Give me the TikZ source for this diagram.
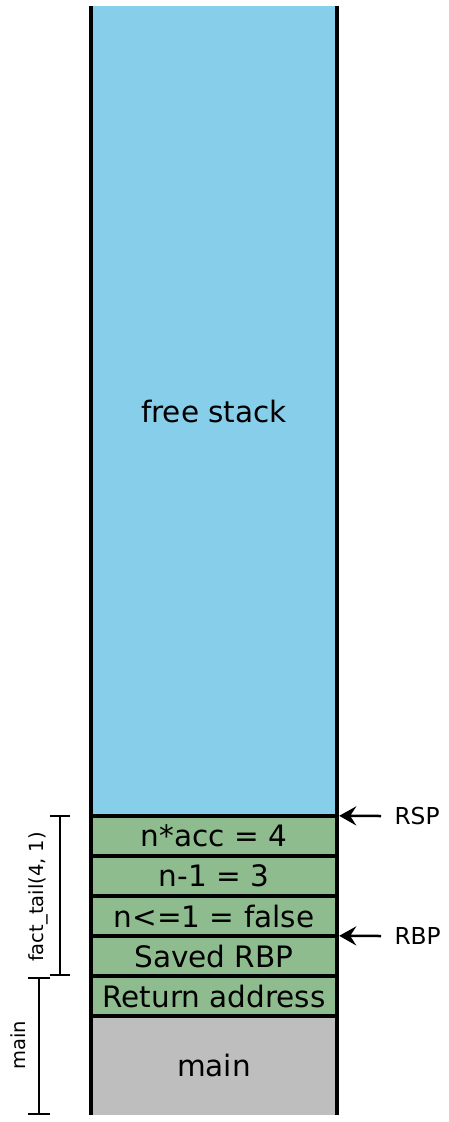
\documentclass[tikz,border=0pt]{standalone}
\usepackage{fontspec}
\setmainfont{DejaVu Sans}
\usetikzlibrary{arrows.meta}
\definecolor{freeblue}{HTML}{87CEEB}
\definecolor{framegreen}{HTML}{8FBC8F}
\definecolor{maingray}{HTML}{BEBEBE}
\begin{document}
\begin{tikzpicture}[x=1pt,y=-1pt,
  cell/.style={fill=framegreen, minimum width=246pt, minimum height=40pt, inner sep=0pt, font=\fontsize{29.5}{30}\selectfont},
  sep/.style={line width=3.5pt},
  side/.style={line width=4pt},
  ptr/.style={line width=2.5pt, -{Stealth[length=17pt,width=19pt,inset=6pt]}},
  ptrlab/.style={anchor=west, font=\fontsize{23.3}{24}\selectfont},
  brk/.style={line width=2pt},
  brklab/.style={rotate=90, font=\fontsize{19.5}{20}\selectfont}]
\useasboundingbox (0,0) rectangle (448,1122);
% cells
\node[cell, fill=freeblue, minimum height=810pt] (free) at (214,411) {free stack};
\node[cell] (c1) at (214,836) {n*acc = 4};
\node[cell] (c2) at (214,876) {n-1 = 3};
\node[cell] (c3) at (214,916) {n<=1 = false};
\node[cell] (c4) at (214,956) {Saved RBP};
\node[cell] (c5) at (214,996) {Return address};
\node[cell, fill=maingray, minimum height=99pt] (mainblk) at (214,1065.5) {main};
% separators
\foreach \c in {c1,c2,c3,c4,c5,mainblk}
  \draw[sep] (\c.north west) -- (\c.north east);
% sides
\draw[side] (free.north west) -- (mainblk.south west);
\draw[side] (free.north east) -- (mainblk.south east);
% pointers
\coordinate (rspt) at (381,816);
\coordinate (rbpt) at (381,936);
\draw[ptr] (rspt) -- ([xshift=2pt]c1.north east);
\draw[ptr] (rbpt) -- ([xshift=2pt]c4.north east);
\node[ptrlab] (rsp) at (391,816) {RSP};
\node[ptrlab] (rbp) at (391,936) {RBP};
% brackets
\coordinate (ft1) at (60,816);
\coordinate (ft2) at (60,975);
\draw[brk] (ft1) -- (ft2);
\draw[brk] (50,816) -- (70,816);
\draw[brk] (50,975) -- (70,975);
\node[brklab] (ftlab) at (38,897) {fact\_tail(4, 1)};
\coordinate (mn1) at (39,978);
\coordinate (mn2) at (39,1114);
\draw[brk] (mn1) -- (mn2);
\draw[brk] (28,978) -- (50,978);
\draw[brk] (28,1114) -- (50,1114);
\node[brklab] (mnlab) at (18,1045) {main};
\end{tikzpicture}
\end{document}
